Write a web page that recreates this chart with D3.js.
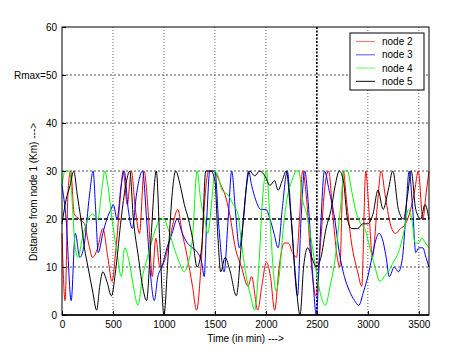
<!DOCTYPE html>
<html>
<head>
<meta charset="utf-8">
<script src="https://cdn.jsdelivr.net/npm/d3@7"></script>
<style>
  body { margin: 0; background: #fff; }
  text { font-family: Arial, "Liberation Sans", sans-serif; }
</style>
</head>
<body>
<svg id="chart" width="474" height="353"></svg>
<script>
// node 2
const node2Time = [0, 30, 60, 85, 120, 170, 220, 260, 300, 350, 400, 450, 490, 530, 570, 600, 640, 680, 720, 760,
    805, 850, 885, 920, 960, 1000, 1050, 1100, 1135, 1180, 1230, 1280, 1320, 1360, 1400, 1440, 1480, 1520, 1560, 1600,
    1645, 1700, 1760, 1825, 1860, 1920, 1960, 2005, 2045, 2086, 2130, 2180, 2220, 2260, 2300, 2330, 2360, 2400, 2440, 2490,
    2540, 2580, 2615, 2660, 2700, 2725, 2760, 2790, 2840, 2900, 2940, 2980, 3010, 3045, 3090, 3130, 3170, 3220, 3270, 3320,
    3370, 3420, 3460, 3495, 3540, 3570, 3600];
const node2Dist = [17, 3, 26, 30, 21, 20, 19, 15, 12, 14, 18, 12, 7, 14, 24, 30, 23, 30, 22, 17,
    30, 20, 8, 16, 10, 11, 15, 20, 22, 17, 12, 6, 1, 9, 24, 30, 30, 29, 27, 25,
    21, 14, 10, 6, 8, 1, 6, 11, 8, 1, 10, 15, 15, 13, 12, 20, 30, 24, 12, 4,
    16, 27, 30, 20, 12, 10, 30, 24, 15, 9, 6, 30, 22, 12, 22, 30, 25, 19, 17, 18,
    19, 22, 26, 30, 20, 25, 30];

// node 3
const node3Time = [0, 40, 90, 130, 175, 220, 270, 305, 330, 355, 400, 440, 480, 503, 540, 580, 610, 650, 690, 730,
    790, 830, 870, 905, 940, 980, 1030, 1080, 1130, 1180, 1230, 1280, 1330, 1370, 1395, 1420, 1450, 1500, 1540, 1590,
    1630, 1665, 1700, 1740, 1780, 1830, 1860, 1900, 1950, 2000, 2040, 2080, 2120, 2160, 2210, 2250, 2310, 2345, 2380, 2420,
    2460, 2495, 2530, 2575, 2620, 2675, 2720, 2770, 2820, 2870, 2910, 2960, 3000, 3040, 3070, 3110, 3140, 3180, 3210, 3260,
    3300, 3340, 3370, 3405, 3440, 3470, 3500, 3540, 3570, 3600];
const node3Dist = [27, 20, 3, 17, 12, 15, 25, 30, 22, 13, 17, 20, 22, 23, 20, 27, 30, 22, 18, 25,
    30, 20, 8, 3, 8, 10, 14, 17, 20, 17, 15, 14, 13, 11, 8, 20, 30, 30, 18, 9,
    20, 30, 22, 14, 20, 30, 27, 24, 22, 22, 20, 17, 14, 22, 30, 20, 4, 20, 30, 22,
    8, 0, 15, 30, 26, 20, 13, 8, 5, 3, 2, 5, 8, 12, 15, 17, 16, 12, 8, 10,
    9, 12, 20, 30, 22, 13, 14, 14, 12, 10];

// node 4
const node4Time = [0, 30, 75, 105, 125, 157, 200, 255, 300, 353, 390, 420, 450, 490, 533, 582, 615, 660, 700, 745,
    790, 838, 876, 920, 967, 1000, 1040, 1099, 1150, 1197, 1240, 1280, 1325, 1360, 1400, 1430, 1470, 1500, 1530, 1570,
    1628, 1680, 1726, 1760, 1800, 1850, 1890, 1930, 1970, 2005, 2040, 2070, 2100, 2130, 2170, 2214, 2256, 2300, 2322, 2360,
    2400, 2450, 2495, 2540, 2583, 2630, 2681, 2730, 2770, 2800, 2840, 2878, 2930, 2970, 3020, 3070, 3118, 3160, 3200, 3250,
    3300, 3350, 3400, 3430, 3465, 3500, 3530, 3565, 3600];
const node4Dist = [27, 30, 30, 22, 15, 12, 16, 20, 21, 20, 26, 30, 27, 20, 14, 8, 14, 11, 6, 2,
    8, 12, 15, 18, 20, 20, 18, 14, 11, 9, 11, 16, 30, 24, 20, 17, 24, 30, 29, 26,
    25, 23, 21, 15, 9, 4, 1, 10, 25, 30, 20, 10, 5, 8, 18, 25, 28, 30, 30, 24,
    21, 15, 9, 4, 2, 6, 12, 22, 30, 30, 26, 22, 19, 18, 14, 10, 7, 8, 9, 11,
    13, 17, 22, 20, 15, 15, 16, 15, 14];

// node 5
const node5Time = [0, 40, 80, 115, 150, 185, 220, 255, 300, 340, 370, 400, 440, 485, 530, 580, 625, 665, 700, 750,
    790, 830, 870, 925, 960, 1000, 1040, 1080, 1115, 1160, 1200, 1240, 1280, 1325, 1370, 1410, 1460, 1500, 1530, 1557,
    1600, 1650, 1710, 1760, 1800, 1840, 1890, 1940, 1990, 2040, 2085, 2120, 2160, 2200, 2240, 2290, 2335, 2370, 2410, 2450,
    2495, 2540, 2590, 2640, 2680, 2720, 2760, 2800, 2840, 2900, 2950, 3000, 3050, 3100, 3150, 3200, 3245, 3300, 3350, 3390,
    3425, 3470, 3520, 3560, 3600];
const node5Dist = [19, 24, 27, 30, 25, 20, 14, 10, 5, 1, 6, 9, 7, 4, 10, 20, 27, 30, 20, 12,
    6, 3, 15, 30, 15, 0, 12, 25, 30, 27, 23, 20, 16, 10, 14, 30, 30, 28, 16, 9,
    12, 9, 4, 15, 25, 30, 29, 30, 29, 27, 28, 26, 28, 30, 22, 8, 0, 10, 14, 12,
    10, 12, 18, 22, 27, 30, 28, 20, 18, 18, 19, 19, 21, 26, 22, 26, 30, 22, 20, 25,
    30, 22, 20, 23, 20];

const seriesNames = ["node 2", "node 3", "node 4", "node 5"];
const seriesColors = ["#ff0000", "#0000ff", "#00ff00", "#000000"];
const legendColors = ["#ff7a7a", "#6f6fff", "#7dff7d", "#333333"];

const xTicks = [0, 500, 1000, 1500, 2000, 2500, 3000, 3500];
const yTicks = [0, 10, 20, 30, 40, 50, 60];
const yTickLabels = ["0", "10", "20", "30", "40", "Rmax=50", "60"];

const series = seriesNames.map((name, i) => ({
    name: name,
    color: seriesColors[i],
    legendColor: legendColors[i],
    t: [node2Time, node3Time, node4Time, node5Time][i],
    v: [node2Dist, node3Dist, node4Dist, node5Dist][i]
}));

const svg = d3.select("#chart");
const pLeft = 62, pRight = 429, pTop = 27, pBottom = 315;

const x = d3.scaleLinear().domain([0, 3600]).range([pLeft, pRight]);
const y = d3.scaleLinear().domain([0, 60]).range([pBottom, pTop]);

// grid
const grid = svg.append("g").attr("class", "grid");
grid.selectAll(".vgrid").data(xTicks.filter(d => d > 0)).enter().append("line")
    .attr("x1", d => x(d)).attr("x2", d => x(d))
    .attr("y1", pTop).attr("y2", pBottom)
    .style("stroke", d => d == 2500 ? "#000" : "#666")
    .style("stroke-width", d => d == 2500 ? 1.6 : 1)
    .style("stroke-dasharray", d => d == 2500 ? "2,1.5" : "1,2");
grid.selectAll(".hgrid").data(yTicks.filter(d => d > 0 && d < 60)).enter().append("line")
    .attr("x1", pLeft).attr("x2", pRight)
    .attr("y1", d => y(d)).attr("y2", d => y(d))
    .style("stroke", d => d == 20 ? "#000" : "#555")
    .style("stroke-width", d => d == 20 ? 1.4 : 1)
    .style("stroke-dasharray", d => d == 20 ? "4,2" : "2,2");

// lines
const line = d3.line()
    .x(d => x(d[0]))
    .y(d => y(d[1]))
    .curve(d3.curveMonotoneX);

svg.append("g").attr("class", "lines").selectAll("path").data(series).enter().append("path")
    .attr("d", d => line(d.t.map((t, i) => [t, d.v[i]])))
    .style("fill", "none")
    .style("stroke", d => d.color)
    .style("stroke-width", 1);

// axes
const xAxis = d3.axisBottom(x).tickValues(xTicks).tickSizeInner(-4).tickSizeOuter(0).tickPadding(6)
    .tickFormat(d3.format("d"));
const yAxis = d3.axisLeft(y).tickValues(yTicks).tickSizeInner(-4).tickSizeOuter(0).tickPadding(5)
    .tickFormat((d, i) => yTickLabels[i]);

const gx = svg.append("g").attr("transform", "translate(0," + pBottom + ")").call(xAxis);
const gy = svg.append("g").attr("transform", "translate(" + pLeft + ",0)").call(yAxis);
[gx, gy].forEach(g => {
    g.select(".domain").remove();
    g.selectAll("text").style("font-size", "10px").style("fill", "#000");
    g.selectAll("line").style("stroke", "#000");
});

// box
svg.append("rect")
    .attr("x", pLeft).attr("y", pTop)
    .attr("width", pRight - pLeft).attr("height", pBottom - pTop)
    .style("fill", "none").style("stroke", "#000").style("stroke-width", 1);
svg.append("line").attr("x1", pLeft).attr("x2", pRight).attr("y1", pBottom).attr("y2", pBottom)
    .style("stroke", "#000").style("stroke-width", 1.6);

// axis titles
svg.append("text")
    .attr("x", (pLeft + pRight) / 2).attr("y", 342)
    .attr("text-anchor", "middle")
    .style("font-size", "10px")
    .text("Time (in min) --->");

svg.append("text")
    .attr("transform", "translate(37," + 192 + ") rotate(-90)")
    .attr("text-anchor", "middle")
    .style("font-size", "10px")
    .text("Distance from node 1 (Km) --->");

// legend
const legend = svg.append("g").attr("transform", "translate(350,33)");
legend.append("rect").attr("width", 74).attr("height", 57)
    .style("fill", "#fff").style("stroke", "#000");
const items = legend.selectAll(".item").data(series).enter().append("g")
    .attr("transform", (d, i) => "translate(0," + (8.5 + i * 13.3) + ")");
items.append("line").attr("x1", 6).attr("x2", 25).attr("y1", 0).attr("y2", 0)
    .style("stroke", d => d.legendColor).style("stroke-width", 1.2);
items.append("text").attr("x", 32).attr("y", 3.5)
    .style("font-size", "10px")
    .text(d => d.name);
</script>
</body>
</html>
